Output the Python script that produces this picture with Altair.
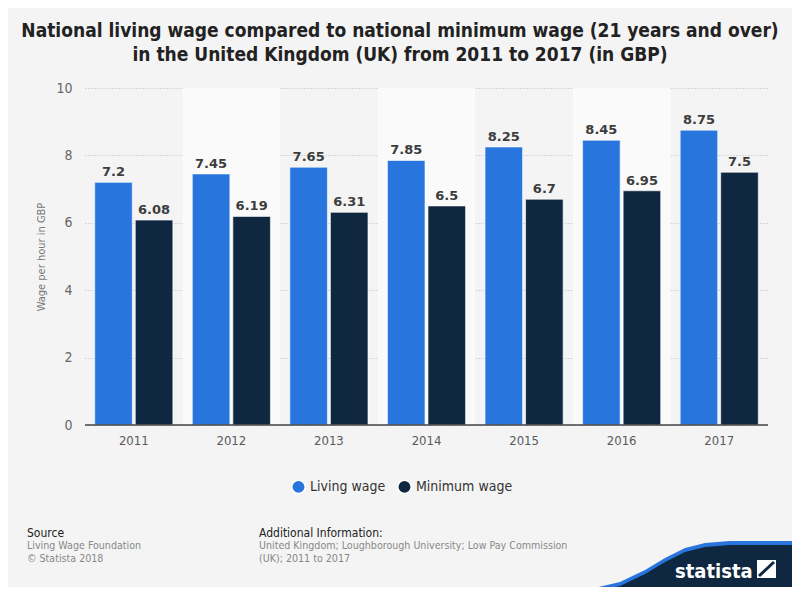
import altair as alt
import pandas as pd

YEARS = ["2011", "2012", "2013", "2014", "2015", "2016", "2017"]
LIVING = [7.2, 7.45, 7.65, 7.85, 8.25, 8.45, 8.75]
MINIMUM = [6.08, 6.19, 6.31, 6.5, 6.7, 6.95, 7.5]
SERIES = ["Living wage", "Minimum wage"]
COLORS = ["#2876dd", "#0f2740"]
Y_TICKS = [0, 2, 4, 6, 8, 10]
TITLE = ["National living wage compared to national minimum wage (21 years and over)",
         "in the United Kingdom (UK) from 2011 to 2017 (in GBP)"]

W, H = 683, 337
COND = "DejaVu Sans Condensed"

rows = []
for y, a, b in zip(YEARS, LIVING, MINIMUM):
    rows.append({"year": y, "series": SERIES[0], "value": a})
    rows.append({"year": y, "series": SERIES[1], "value": b})
df = pd.DataFrame(rows)
bands = pd.DataFrame({"year": YEARS})

xaxis = alt.Axis(title=None, labelAngle=0, labelFont=COND, labelFontSize=13,
                 labelColor="#5a5a5a", ticks=False, domain=False, labelPadding=9)
xscale = alt.Scale(domain=YEARS, paddingInner=0, paddingOuter=0)
xoff = alt.Scale(domain=SERIES, paddingInner=0.074, paddingOuter=0.24)
yscale = alt.Scale(domain=[0, 10])

band_layer = alt.Chart(bands).transform_filter(
    "toNumber(datum.year) % 2 == 0"
).mark_rect(fill="#fafafa").encode(
    x=alt.X("year:N", scale=xscale, axis=xaxis),
    y=alt.value(0), y2=alt.value(H),
)

grid_layer = alt.Chart(df).mark_bar(opacity=0).encode(
    x=alt.X("year:N", scale=xscale, axis=xaxis),
    y=alt.Y("value:Q", scale=yscale,
            axis=alt.Axis(title="Wage per hour in GBP", titleFont=COND, titleFontSize=11,
                          titleFontWeight="normal", titleColor="#777777", titlePadding=9,
                          values=Y_TICKS, labelFont=COND, labelFontSize=14,
                          labelColor="#666666", ticks=False, domain=False, labelPadding=13,
                          grid=True, gridDash=[1, 2], gridColor="#bbbbbb")),
)

bars = alt.Chart(df).mark_bar(stroke="#ffffff", strokeWidth=1, strokeOpacity=0.6).encode(
    x=alt.X("year:N", scale=xscale, axis=xaxis),
    xOffset=alt.XOffset("series:N", scale=xoff),
    y=alt.Y("value:Q", scale=yscale),
    color=alt.Color("series:N", scale=alt.Scale(domain=SERIES, range=COLORS),
                    legend=alt.Legend(title=None, orient="none", direction="horizontal",
                                      legendX=206, legendY=391, symbolType="circle",
                                      symbolSize=180, labelFont=COND, labelFontSize=14,
                                      labelColor="#333333", columnPadding=8,
                                      symbolOpacity=1)),
)

labels = alt.Chart(df).mark_text(font="DejaVu Sans", fontWeight="bold", fontSize=13,
                                 color="#3d3d3d", baseline="bottom", dy=-3).encode(
    x=alt.X("year:N", scale=xscale),
    xOffset=alt.XOffset("series:N", scale=xoff),
    y=alt.Y("value:Q", scale=yscale),
    text=alt.Text("value:Q"),
)

zero = alt.Chart(pd.DataFrame({"v": [0]})).mark_rule(color="#444444", strokeWidth=1.5).encode(
    y=alt.Y("v:Q", scale=yscale),
)


def txt(s, x, y, size, color, weight="normal", font=COND, align="left"):
    return alt.Chart(pd.DataFrame({"t": [s]})).mark_text(
        font=font, fontSize=size, color=color, fontWeight=weight, align=align,
        baseline="middle").encode(x=alt.value(x), y=alt.value(y), text="t:N")


titles = [
    txt(TITLE[0], 315, -57, 19, "#222222", weight="bold", align="center"),
    txt(TITLE[1], 315, -33, 19, "#222222", weight="bold", align="center"),
]

footer = [
    txt("Source", -58, 445, 12, "#222222"),
    txt("Living Wage Foundation", -58, 458, 10.6, "#888888"),
    txt("© Statista 2018", -58, 471, 10.6, "#888888"),
    txt("Additional Information:", 174, 445, 12, "#222222"),
    txt("United Kingdom; Loughborough University; Low Pay Commission", 174, 458, 10.6, "#888888"),
    txt("(UK); 2011 to 2017", 174, 471, 10.6, "#888888"),
]

# statista logo wave (decoration, pixel coordinates relative to plot area)
ox, oy = 85, 88
wave_x = [553, 590, 620, 645, 665, 685, 705, 730, 800]
wave_y = [592, 589, 582, 570, 558, 548, 543, 541, 541]
wave = pd.DataFrame({"x": [v - ox for v in wave_x], "y": [v - oy for v in wave_y],
                     "yb": [504] * len(wave_x)})
blue_wave = alt.Chart(wave).mark_area(color="#2876dd").encode(
    x=alt.X("x:Q", scale=None), y=alt.Y("y:Q", scale=None), y2="yb:Q")
wave2 = wave.assign(y=wave["y"] + 4)
dark_wave = alt.Chart(wave2).mark_area(color="#0f2740").encode(
    x=alt.X("x:Q", scale=None), y=alt.Y("y:Q", scale=None), y2="yb:Q")
bottom_line = alt.Chart(pd.DataFrame({"a": [0]})).mark_rule(color="#2876dd", strokeWidth=3).encode(
    x=alt.value(-85), x2=alt.value(715), y=alt.value(505))
logo_text = alt.Chart(pd.DataFrame({"t": ["statista"]})).mark_text(
    font=COND, fontSize=20, fontWeight="bold", color="#ffffff", align="left",
    baseline="alphabetic").encode(x=alt.value(590), y=alt.value(490), text="t:N")
logo_box = alt.Chart(pd.DataFrame({"a": [0]})).mark_rect(color="#ffffff").encode(
    x=alt.value(672), x2=alt.value(691), y=alt.value(472), y2=alt.value(490))
logo_slash = alt.Chart(pd.DataFrame({"a": [0]})).mark_rule(color="#0f2740", strokeWidth=3).encode(
    x=alt.value(674), x2=alt.value(689), y=alt.value(488), y2=alt.value(474))

chart = alt.layer(
    band_layer, grid_layer, bars, labels, zero, *titles, *footer,
    blue_wave, dark_wave, bottom_line, logo_text, logo_box, logo_slash,
).properties(
    width=W, height=H,
    autosize=alt.AutoSizeParams(type="none"),
    padding={"left": 77, "top": 80, "right": 24, "bottom": 162},
    background="#f4f4f4",
).configure_view(stroke=None)

chart.save("out.html", embed_options={"renderer": "svg", "actions": False})
